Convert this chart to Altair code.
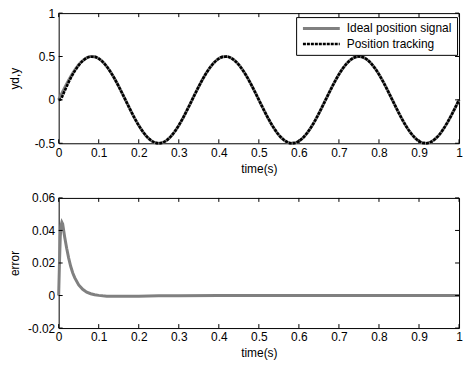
import altair as alt
import pandas as pd

# ---------------- data ----------------
series_names = ["Ideal position signal", "Position tracking"]

time_ideal = [round(i * 0.01, 2) for i in range(101)]
ideal = [0, 0.094, 0.184, 0.268, 0.342, 0.405, 0.452, 0.484, 0.499, 0.496,
         0.476, 0.438, 0.385, 0.319, 0.241, 0.155, 0.063, -0.031, -0.124, -0.213,
         -0.294, -0.364, -0.422, -0.465, -0.491, -0.5, -0.491, -0.465, -0.422, -0.364,
         -0.294, -0.213, -0.124, -0.031, 0.063, 0.155, 0.241, 0.319, 0.385, 0.438,
         0.476, 0.496, 0.499, 0.484, 0.452, 0.405, 0.342, 0.268, 0.184, 0.094,
         0, -0.094, -0.184, -0.268, -0.342, -0.405, -0.452, -0.484, -0.499, -0.496,
         -0.476, -0.438, -0.385, -0.319, -0.241, -0.155, -0.063, 0.031, 0.124, 0.213,
         0.294, 0.364, 0.422, 0.465, 0.491, 0.5, 0.491, 0.465, 0.422, 0.364,
         0.294, 0.213, 0.124, 0.031, -0.063, -0.155, -0.241, -0.319, -0.385, -0.438,
         -0.476, -0.496, -0.499, -0.484, -0.452, -0.405, -0.342, -0.268, -0.184, -0.094,
         0]

track_start_t = [0, 0.005, 0.01, 0.015, 0.02, 0.03, 0.04, 0.05, 0.06, 0.07, 0.08, 0.09, 0.10]
track_start_v = [0, 0.007, 0.050, 0.104, 0.155, 0.250, 0.331, 0.398, 0.448, 0.482, 0.498, 0.496, 0.476]
time_track = track_start_t + time_ideal[11:]
track = track_start_v + ideal[11:]

time_err = [0, 0.002, 0.004, 0.006, 0.008, 0.01, 0.015, 0.02, 0.025, 0.03, 0.035, 0.04,
            0.05, 0.06, 0.07, 0.08, 0.09, 0.10, 0.11, 0.12, 0.14, 0.16, 0.2, 0.25, 0.3,
            0.4, 0.5, 0.6, 0.7, 0.8, 0.9, 1.0]
err = [0, 0.020, 0.036, 0.043, 0.045, 0.044, 0.036, 0.029, 0.023, 0.018, 0.014, 0.011,
       0.0065, 0.0038, 0.0021, 0.0011, 0.0005, 0.0001, -0.0002, -0.0004, -0.0005, -0.0005,
       -0.0004, -0.0002, -0.0001, 0, 0, 0, 0, 0, 0, 0]

x_ticks = [0, 0.1, 0.2, 0.3, 0.4, 0.5, 0.6, 0.7, 0.8, 0.9, 1]
pos_ticks = [-0.5, 0, 0.5, 1]
err_ticks = [-0.02, 0, 0.02, 0.04, 0.06]

# ---------------- chart ----------------
FONT = "Liberation Sans"
W, H1, H2 = 403, 131, 131
TL = 4

pos_df = pd.concat([
    pd.DataFrame({"t": time_ideal, "v": ideal, "series": series_names[0]}),
    pd.DataFrame({"t": time_track, "v": track, "series": series_names[1]}),
])
err_df = pd.DataFrame({"t": time_err, "v": err})
xt_df = pd.DataFrame({"t": x_ticks})

x_enc = alt.X("t:Q", scale=alt.Scale(domain=[0, 1], nice=False, zero=False),
              axis=alt.Axis(values=x_ticks, labelExpr="toString(datum.value)", ticks=False,
                            domain=False, grid=False, title="time(s)", labelPadding=4,
                            titlePadding=5, labelFlush=False, labelOverlap=False))


def y_enc(ticks, dom, title, tpad):
    return alt.Y("v:Q", scale=alt.Scale(domain=dom, nice=False, zero=False),
                 axis=alt.Axis(values=ticks, labelExpr="toString(datum.value)", ticks=False,
                               domain=False, grid=False, title=title, labelPadding=4,
                               titlePadding=tpad, labelFlush=False, labelOverlap=False))


def tick_layers(ticks, yenc, h):
    yt_df = pd.DataFrame({"v": ticks})
    bottom = alt.Chart(xt_df).mark_rule(color="black").encode(
        x=x_enc, y=alt.value(h), y2=alt.value(h - TL))
    top = alt.Chart(xt_df).mark_rule(color="black").encode(
        x=x_enc, y=alt.value(0), y2=alt.value(TL))
    left = alt.Chart(yt_df).mark_rule(color="black").encode(
        y=yenc, x=alt.value(0), x2=alt.value(TL))
    right = alt.Chart(yt_df).mark_rule(color="black").encode(
        y=yenc, x=alt.value(W - TL), x2=alt.value(W))
    return [bottom, top, left, right]


leg = alt.Legend(title=None, orient="none", legendX=239, legendY=4, symbolType="M-1,0H7",
                 symbolSize=86, symbolStrokeWidth=2.5, labelFontSize=12, labelFont=FONT,
                 labelColor="black", strokeColor="black", fillColor="white", padding=5,
                 labelOffset=33, rowPadding=3, cornerRadius=0)

y1 = y_enc(pos_ticks, [-0.5, 1], "yd,y", 12.3)
lines = alt.Chart(pos_df).mark_line(interpolate="monotone").encode(
    x=x_enc, y=y1,
    color=alt.Color("series:N", scale=alt.Scale(domain=series_names, range=["#808080", "#000000"]),
                    legend=leg),
    strokeDash=alt.StrokeDash("series:N", scale=alt.Scale(domain=series_names, range=[[1, 0], [3, 1]]),
                              legend=leg),
    strokeWidth=alt.StrokeWidth("series:N", scale=alt.Scale(domain=series_names, range=[3, 2.6]),
                                legend=None),
)
top_chart = alt.layer(lines, *tick_layers(pos_ticks, y1, H1)).properties(width=W, height=H1)

y2 = y_enc(err_ticks, [-0.02, 0.06], "error", 5.8)
err_line = alt.Chart(err_df).mark_line(color="#808080", strokeWidth=3).encode(x=x_enc, y=y2)
bot_chart = alt.layer(err_line, *tick_layers(err_ticks, y2, H2)).properties(width=W, height=H2)

chart = alt.vconcat(top_chart, bot_chart, spacing=16).properties(
    padding={"left": 0, "top": -3, "right": 0, "bottom": 0}, background="white"
).configure_view(stroke="black", strokeWidth=1).configure_axis(
    labelFont=FONT, titleFont=FONT, labelFontSize=12, titleFontSize=12,
    labelColor="black", titleColor="black", titleFontWeight="normal"
)

chart.save("out.html", embed_options={"renderer": "svg", "actions": False})
